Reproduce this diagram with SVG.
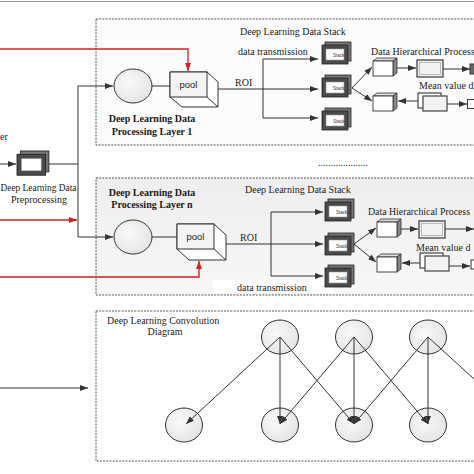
<svg xmlns="http://www.w3.org/2000/svg" xmlns:xlink="http://www.w3.org/1999/xlink" width="474" height="474" viewBox="0 0 474 474">
<style>
.t{font-family:"Liberation Serif","Times New Roman",serif;font-size:10px;fill:#1a1a1a}
.b{font-weight:bold}
.s{font-family:"Liberation Sans",Arial,sans-serif;font-size:4.5px;fill:#333}
.pool{font-family:"Liberation Sans",Arial,sans-serif;font-size:9.5px;fill:#222}
.ln{fill:none;stroke:#333;stroke-width:1}
.ar{fill:none;stroke:#333;stroke-width:1;marker-end:url(#ah)}
.rd{fill:none;stroke:#d42020;stroke-width:1.3;marker-end:url(#rh)}
.panel{stroke:#555;stroke-width:1;stroke-dasharray:2 1.2}
.circ{fill:url(#cg);stroke:#333;stroke-width:1}
</style>
<defs>
<marker id="ah" viewBox="0 0 8 6" refX="8" refY="3" markerWidth="8" markerHeight="6" markerUnits="userSpaceOnUse" orient="auto"><path d="M0,0 L8,3 L0,6 z" fill="#333"/></marker>
<marker id="rh" viewBox="0 0 8 6" refX="8" refY="3" markerWidth="8" markerHeight="6" markerUnits="userSpaceOnUse" orient="auto"><path d="M0,0 L8,3 L0,6 z" fill="#d42020"/></marker>
<radialGradient id="cg" cx="0.4" cy="0.4" r="0.7"><stop offset="0" stop-color="#fafafa"/><stop offset="1" stop-color="#e2e2e2"/></radialGradient>
<linearGradient id="pg" x1="0" y1="0" x2="0" y2="1"><stop offset="0" stop-color="#eeeeee"/><stop offset="1" stop-color="#f7f7f7"/></linearGradient>
<g id="stk">
<rect x="3" y="0" width="26" height="19" fill="#777" stroke="#222" stroke-width="0.8"/>
<rect x="0" y="3" width="26" height="19" fill="#4a4a4a" stroke="#222" stroke-width="0.8"/>
<rect x="4" y="7" width="18" height="11" fill="#fff" stroke="#999" stroke-width="0.6"/>
</g>
<g id="cube">
<polygon points="0,3 4,0 24,0 20,3" fill="#ddd" stroke="#333" stroke-width="0.8"/>
<polygon points="20,3 24,0 24,15 20,18" fill="#888" stroke="#333" stroke-width="0.8"/>
<rect x="0" y="3" width="20" height="15" fill="#fff" stroke="#333" stroke-width="0.9"/>
</g>
<g id="dbl">
<rect x="0" y="0" width="26" height="17" fill="#f2f2f2" stroke="#444" stroke-width="1.3"/>
<rect x="2.5" y="2.5" width="21" height="12" fill="none" stroke="#aaa" stroke-width="0.8"/>
</g>
<g id="two">
<rect x="0" y="0" width="23" height="15" fill="#fff" stroke="#444" stroke-width="1.2"/>
<rect x="5" y="3" width="24" height="15" fill="#f2f2f2" stroke="#444" stroke-width="1.2"/>
</g>
</defs>
<rect width="474" height="474" fill="#fff"/>
<line x1="0" y1="1.5" x2="474" y2="1.5" stroke="#999" stroke-width="1.2"/>

<!-- panels -->
<g id="panel-top"><rect class="panel" x="96" y="19" width="400" height="126" fill="#fcfcfc"/></g>
<g id="panel-mid"><rect class="panel" x="96" y="178" width="400" height="117" fill="url(#pg)"/><rect x="213" y="280" width="120" height="13" fill="#fff"/></g>
<g id="panel-bot"><rect class="panel" x="96" y="311" width="400" height="150" fill="#fff"/></g>

<!-- connectors -->
<g id="connectors">
<polyline class="rd" points="0,49 188,49 188,71"/>
<polyline class="rd" points="0,220 77,220"/>
<polyline class="rd" points="0,277 199,277 199,261"/>
<line class="ar" x1="0" y1="164" x2="16" y2="164"/>
<line class="ln" x1="49" y1="164" x2="78" y2="164"/>
<line class="ln" x1="78" y1="86" x2="78" y2="237"/>
<line class="ar" x1="78" y1="86" x2="113" y2="86"/>
<line class="ar" x1="78" y1="237" x2="113" y2="237"/>
<line class="ln" x1="152" y1="86" x2="170" y2="86"/>
<line class="ar" x1="218" y1="89" x2="318" y2="89"/>
<line class="ln" x1="263" y1="59" x2="263" y2="118"/>
<line class="ar" x1="263" y1="59" x2="318" y2="59"/>
<line class="ar" x1="263" y1="118" x2="318" y2="118"/>
<line class="ar" x1="352" y1="88" x2="372" y2="67"/>
<line class="ar" x1="352" y1="88" x2="372" y2="101"/>
<line class="ar" x1="397" y1="68" x2="416" y2="68"/>
<line class="ar" x1="443" y1="69" x2="470" y2="69"/>
<line class="ar" x1="418" y1="101" x2="398" y2="101"/>
<line class="ar" x1="447" y1="104" x2="467" y2="104"/>
<line class="ln" x1="152" y1="237" x2="177" y2="237"/>
<line class="ar" x1="226" y1="244" x2="323" y2="244"/>
<line class="ln" x1="271" y1="212" x2="271" y2="276"/>
<line class="ar" x1="271" y1="212" x2="323" y2="212"/>
<line class="ar" x1="271" y1="276" x2="323" y2="276"/>
<line class="ar" x1="354" y1="244" x2="376" y2="228"/>
<line class="ar" x1="354" y1="244" x2="376" y2="262"/>
<line class="ar" x1="401" y1="229" x2="418" y2="229"/>
<line class="ar" x1="443" y1="229" x2="474" y2="229"/>
<line class="ar" x1="420" y1="263" x2="402" y2="263"/>
<line class="ar" x1="447" y1="266" x2="470" y2="266"/>
<line class="ar" x1="0" y1="388" x2="88" y2="388"/>
</g>

<!-- left -->
<g id="layer-label"><text class="t" x="0" y="140">er</text></g>
<g id="preprocessing">
<use xlink:href="#stk" transform="translate(17,151) scale(1.1)"/>
<text class="t" x="0.5" y="191" font-size="9.5" textLength="76" lengthAdjust="spacingAndGlyphs">Deep Learning Data</text>
<text class="t" x="39" y="203" text-anchor="middle">Preprocessing</text>
</g>

<!-- top panel -->
<g id="layer1">
<ellipse class="circ" cx="133" cy="86" rx="19" ry="17"/>
<text class="t b" x="152" y="122" text-anchor="middle">Deep Learning Data</text>
<text class="t b" x="152" y="135" text-anchor="middle">Processing Layer 1</text>
</g>
<g id="pool1">
<polygon points="170,72 207,72 218,82 218,107 182,107 170,97" fill="#fff" stroke="#333" stroke-width="1"/>
<line class="ln" x1="207" y1="97" x2="218" y2="107"/>
<rect x="170" y="72" width="37" height="25" fill="#f4f4f4" stroke="#333" stroke-width="1"/>
<text class="pool" x="188.5" y="88" text-anchor="middle">pool</text>
</g>
<g id="stack1">
<text class="t" x="240" y="35">Deep Learning Data Stack</text>
<text class="t" x="238" y="55">data transmission</text>
<text class="t" x="235" y="86">ROI</text>
<use xlink:href="#stk" x="322" y="42"/><text class="s" x="333" y="57">Stack</text>
<use xlink:href="#stk" x="322" y="75"/><text class="s" x="333" y="90">Stack</text>
<use xlink:href="#stk" x="322" y="108"/><text class="s" x="333" y="123">Stack</text>
</g>
<g id="hier1-label"><text class="t" x="371" y="55" font-size="9.3">Data Hierarchical Process</text></g>
<g id="hier1">
<text class="t" x="419" y="89">Mean value d</text>
<use xlink:href="#cube" x="373" y="58"/>
<use xlink:href="#dbl" x="417" y="60"/>
<rect x="470" y="64" width="8" height="10" fill="#666" stroke="#333"/>
<use xlink:href="#cube" x="373" y="93"/>
<use xlink:href="#two" x="418" y="93"/>
<rect x="467.5" y="99.5" width="10" height="9" fill="#fff" stroke="#333"/>
</g>

<g id="dots"><text class="t" x="318" y="166">....................</text></g>

<!-- middle panel -->
<g id="layern">
<text class="t b" x="152" y="196" text-anchor="middle">Deep Learning Data</text>
<text class="t b" x="152" y="208" text-anchor="middle">Processing Layer n</text>
<ellipse class="circ" cx="133" cy="237" rx="19" ry="17"/>
</g>
<g id="pooln">
<polygon points="177,224 214,224 226,235 226,260 189,260 177,249" fill="#fff" stroke="#333" stroke-width="1"/>
<line class="ln" x1="214" y1="249" x2="226" y2="260"/>
<rect x="177" y="224" width="37" height="25" fill="#f4f4f4" stroke="#333" stroke-width="1"/>
<text class="pool" x="195.5" y="240" text-anchor="middle">pool</text>
</g>
<g id="stackn">
<text class="t" x="245" y="193">Deep Learning Data Stack</text>
<text class="t" x="240" y="241">ROI</text>
<text class="t" x="237" y="291">data transmission</text>
<use xlink:href="#stk" x="325" y="199"/><text class="s" x="336" y="214">Stack</text>
<use xlink:href="#stk" x="325" y="233"/><text class="s" x="336" y="248">Stack</text>
<use xlink:href="#stk" x="325" y="265"/><text class="s" x="336" y="280">Stack</text>
</g>
<g id="hiern">
<text class="t" x="368" y="215" textLength="102" lengthAdjust="spacingAndGlyphs">Data Hierarchical Process</text>
<text class="t" x="416" y="251">Mean value d</text>
<use xlink:href="#cube" x="377" y="219"/>
<use xlink:href="#dbl" x="419" y="221"/>
<use xlink:href="#cube" x="377" y="254"/>
<use xlink:href="#two" x="420" y="253"/>
<rect x="471" y="260" width="8" height="9" fill="#fff" stroke="#333"/>
</g>

<!-- bottom panel -->
<g id="conv">
<text class="t" x="107" y="324">Deep Learning Convolution</text>
<text class="t" x="165" y="335" text-anchor="middle">Diagram</text>
<ellipse class="circ" cx="280" cy="337" rx="18.5" ry="17"/>
<ellipse class="circ" cx="354" cy="337" rx="18.5" ry="17"/>
<ellipse class="circ" cx="428" cy="337" rx="18.5" ry="17"/>
<ellipse class="circ" cx="184" cy="425" rx="18.5" ry="17"/>
<ellipse class="circ" cx="280" cy="425" rx="18.5" ry="17"/>
<ellipse class="circ" cx="354" cy="425" rx="18.5" ry="17"/>
<ellipse class="circ" cx="428" cy="425" rx="18.5" ry="17"/>
</g>
<g id="conv-connectors">
<line class="ar" x1="280" y1="337" x2="186" y2="424"/>
<line class="ar" x1="280" y1="337" x2="280" y2="424"/>
<line class="ar" x1="280" y1="337" x2="354" y2="424"/>
<line class="ar" x1="354" y1="337" x2="280" y2="424"/>
<line class="ar" x1="354" y1="337" x2="354" y2="424"/>
<line class="ar" x1="354" y1="337" x2="428" y2="424"/>
<line class="ar" x1="428" y1="337" x2="354" y2="424"/>
<line class="ar" x1="428" y1="337" x2="428" y2="424"/>
<line class="ln" x1="428" y1="337" x2="474" y2="379"/>
</g>
</svg>
